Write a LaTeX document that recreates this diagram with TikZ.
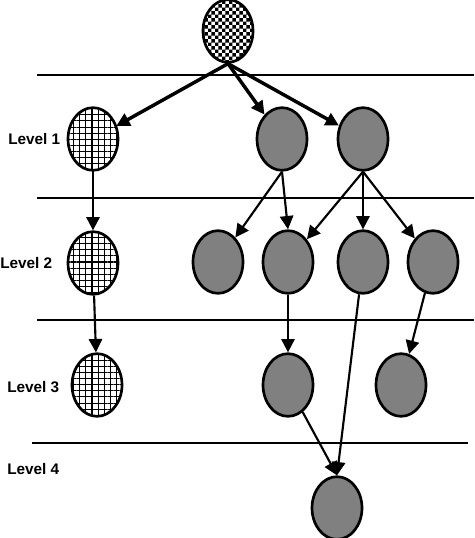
\documentclass[tikz,border=0pt]{standalone}
\usepackage{fontspec}
\setmainfont{Liberation Sans}
\usetikzlibrary{arrows.meta,shapes.geometric,patterns,patterns.meta}
\pgfdeclarepatternformonly{finechecker}{\pgfpointorigin}{\pgfqpoint{5.2pt}{5.2pt}}{\pgfqpoint{5.2pt}{5.2pt}}{
  \pgfpathrectangle{\pgfpointorigin}{\pgfqpoint{2.6pt}{2.6pt}}
  \pgfpathrectangle{\pgfqpoint{2.6pt}{2.6pt}}{\pgfqpoint{2.6pt}{2.6pt}}
  \pgfusepath{fill}
}
\tikzstyle{task} = [
  ellipse, draw, line width = 2pt, inner sep = 0pt, minimum width =
  37.5pt, minimum height = 47pt
]
\tikzstyle{busy} = [task, fill = gray]
\tikzstyle{chain} = [task, pattern = {Hatch[angle=0, distance=4.6pt, line width=0.8pt]}]
\tikzstyle{start} = [task, pattern = finechecker]
\tikzstyle{link} = [draw, line width = 1.6pt, -{Triangle[length=10pt, width=10pt]}]
\tikzstyle{level} = [anchor = west, inner sep = 0pt, font = \fontsize{11.5}{14}\selectfont\bfseries]

\begin{document}
\begin{tikzpicture}[x=0.75pt, y=-0.75pt]
    \useasboundingbox (0,0) rectangle (474,538);

    % level separators
    \draw[line width = 2pt] (37,75) -- (474,75);
    \draw[line width = 2pt] (37,198) -- (474,198);
    \draw[line width = 2pt] (37,320) -- (474,320);
    \draw[line width = 2pt] (32,443) -- (468,443);

    \node[level] (lab1) at (8,139) {Level 1};
    \node[level] (lab2) at (0,263) {Level 2};
    \node[level] (lab3) at (7,387) {Level 3};
    \node[level] (lab4) at (7,469) {Level 4};

    \node[start] (root) at (228,31) {};
    \node[chain] (g1) at (93,139) {};
    \node[busy] (n1a) at (282,139) {};
    \node[busy] (n1b) at (363,139) {};
    \node[chain] (g2) at (93,263) {};
    \node[busy] (n2a) at (218,262) {};
    \node[busy] (n2b) at (288,262) {};
    \node[busy] (n2c) at (363,262) {};
    \node[busy] (n2d) at (433,262) {};
    \node[chain] (g3) at (97,385) {};
    \node[busy] (n3a) at (288,385) {};
    \node[busy] (n3b) at (401,385) {};
    \node[busy] (n4) at (337,508) {};

    \draw[link, line width = 2.6pt] (root.south) -- (g1);
    \draw[link, line width = 2.6pt] (root.south) -- (n1a);
    \draw[link, line width = 2.6pt] (root.south) -- (n1b);
    \draw[link] (g1) -- (g2);
    \draw[link] (g2) -- (g3);
    \draw[link] (n1a.south) -- (n2a);
    \draw[link] (n1a.south) -- (n2b.north);
    \draw[link] (n1b.south) -- (n2b);
    \draw[link] (n1b.south) -- (n2c);
    \draw[link] (n1b.south) -- (n2d);
    \draw[link] (n2b) -- (n3a);
    \draw[link] (n2d) -- (n3b);
    \draw[link] (n2c) -- (n4.north);
    \draw[link] (n3a) -- (n4.north);
  \end{tikzpicture}
\end{document}
